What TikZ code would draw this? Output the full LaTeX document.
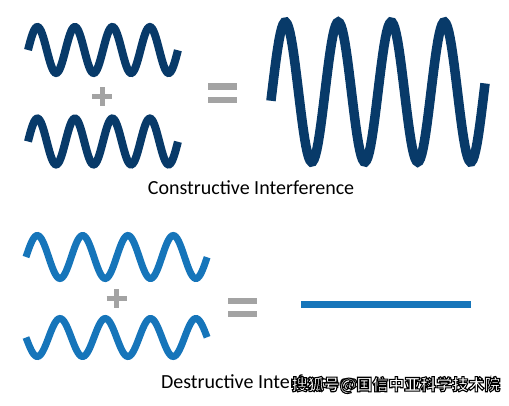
\documentclass[tikz,border=0pt]{standalone}
\usepackage{fontspec}
\setmainfont{Carlito}
\newfontfamily\cjk{Noto Sans CJK SC}
\definecolor{navy}{RGB}{8,58,105}
\definecolor{wblue}{RGB}{22,117,186}
\definecolor{sgray}{RGB}{163,163,163}
\newcommand\outlined[1]{\special{pdf:code q 2 Tr 1.1 w 0 0 0 RG}#1\special{pdf:code Q}}
\tikzset{
	sign/.style={sgray,line width=6pt},
	label/.style={inner sep=0pt,font=\fontsize{20}{24}\selectfont},
	mark text/.style={inner sep=0pt,text=white,font=\cjk\bfseries\fontsize{16}{18}\selectfont}
}
\begin{document}
\begin{tikzpicture}[x=1pt,y=-1pt]
	 			\useasboundingbox (0,0) rectangle (509,406);
	 			\draw [navy,line width=8pt] plot[domain=0:4,samples=140] ({28+37.5*\x},{50-23*sin(360*\x)});
	 			\draw [navy,line width=8pt] plot[domain=0:4,samples=140] ({28+37.5*\x},{141.5-23*sin(360*\x)});
	 			\draw [navy,line width=9.5pt] plot[domain=-0.02:4.02,samples=160] ({272+53*\x},{92-70*sin(360*\x)});
	 			\draw [sign,line width=5pt] (92,97) -- (112,97) (102,87.5) -- (102,106.5);
	 			\draw [sign,line width=6.5pt] (208,86.5) -- (237,86.5) (208,100) -- (237,100);
	 			\node [label] (con) at (251,188) {Constructive Interference};
	 			\draw [wblue,line width=7pt] plot[domain=0:4,samples=140] ({26+45.3*\x},{257-21.5*sin(360*\x)});
	 			\draw [wblue,line width=7pt] plot[domain=0:4,samples=140] ({26+45.3*\x},{337.5+19*sin(360*\x)});
	 			\draw [sign,line width=5pt] (106.5,299) -- (126.5,299) (116.5,289.5) -- (116.5,308.5);
	 			\draw [sign,line width=6.5pt] (228,301) -- (257,301) (228,314) -- (257,314);
	 			\draw [wblue,line width=7pt] (301,305) -- (471,305);
	 			\node [label] (des) at (259.5,382) {Destructive Interference};
	 			\node [mark text] (wm) at (396,385) {\outlined{搜狐号@国信中亚科学技术院}};
\end{tikzpicture}
\end{document}
